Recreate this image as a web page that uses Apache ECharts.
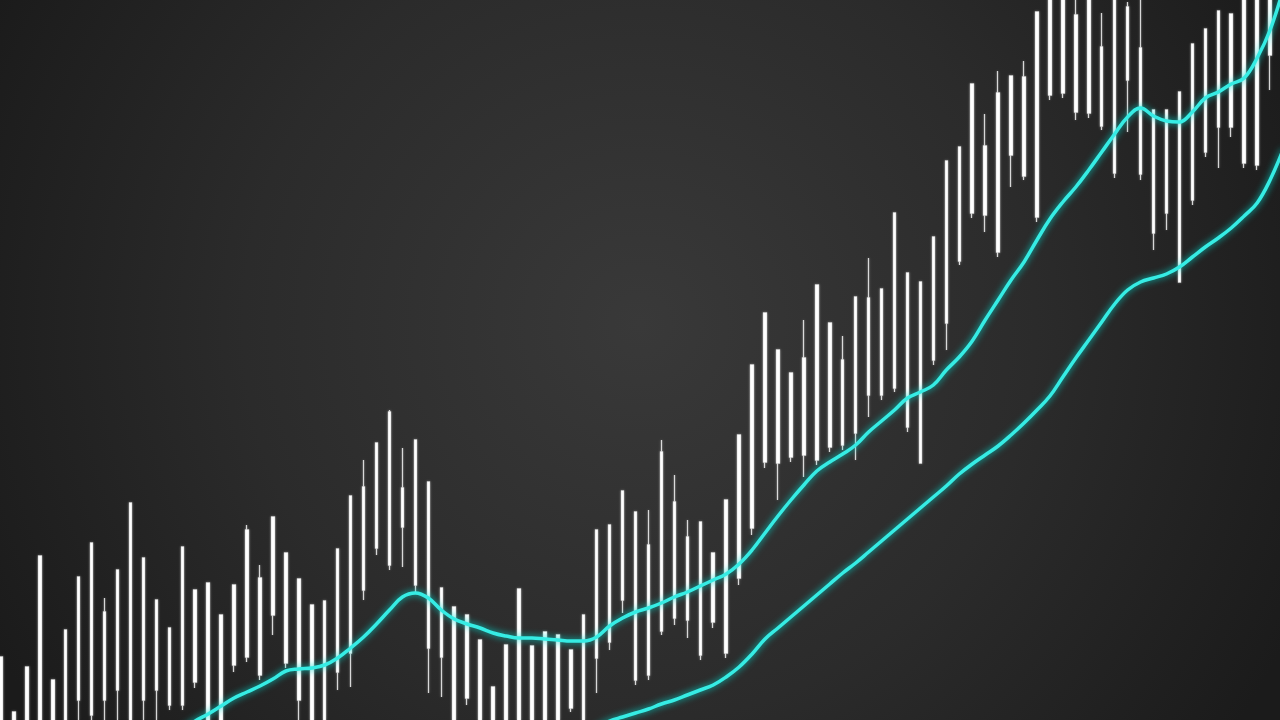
<!DOCTYPE html>
<html>
<head>
<meta charset="utf-8">
<script src="https://cdn.jsdelivr.net/npm/echarts@6/dist/echarts.min.js"></script>
<style>
html,body{margin:0;padding:0;background:#222;}
#chart{width:1280px;height:720px;}
</style>
</head>
<body>
<div id="chart"></div>
<script>
// Session index (category axis)
const sessions = Array.from({length: 100}, (_, i) => 'D' + (i + 1));

// Candle values (price units, 0..720 visible range)
const opens = [-10,-15,-15,-10,-15,-15,20,5,20,30,0,20,30,15,15,38,-5,-5,55,63,
  45,105,57,20,0,0,48,67,130,172,155,193,135,72,63,0,22,0,0,0,
  0,0,0,0,12,0,62,78,120,40,45,89,102,100,65,98,67,142,192,258,
  257,263,265,260,273,275,287,325,325,332,293,257,360,397,459,507,505,468,565,544,
  503,625,627,608,607,594,547,640,546,487,507,438,520,568,593,593,557,555,665,'-'];
const closes = [63,8,53,164,40,90,143,177,108,150,217,162,120,92,173,130,137,105,135,190,
  142,203,167,141,115,119,171,224,233,277,308,232,280,238,132,113,105,80,33,75,
  131,74,88,85,70,105,190,195,229,208,175,268,218,183,198,167,220,285,355,407,
  370,347,362,435,397,360,423,422,431,507,447,438,483,559,573,636,574,627,644,643,
  708,730,730,705,730,673,730,713,672,610,610,628,676,691,709,706,730,730,730,'-'];
const lows = [-20,-20,-20,-20,-20,-20,0,-15,-10,0,-15,0,0,10,10,32,-20,-20,48,58,
  40,85,52,0,-15,-15,30,33,120,165,150,153,128,27,23,-15,15,-15,-15,-15,
  -15,-15,-15,-15,8,-15,27,70,107,35,40,85,95,82,60,92,62,135,185,252,
  220,258,243,255,268,270,260,303,320,328,288,257,355,370,455,502,488,463,533,540,
  498,620,622,600,602,590,542,588,540,470,490,438,515,563,552,583,552,550,630,'-'];
const highs = [63,8,53,164,40,90,143,177,122,150,217,162,120,92,173,130,137,105,135,195,
  155,203,167,141,115,119,171,224,260,277,310,272,280,238,132,113,105,80,33,75,
  131,74,88,85,70,105,190,195,229,208,210,280,245,200,198,167,220,285,355,407,
  370,347,400,435,397,384,423,462,431,507,447,438,483,559,573,636,606,649,644,659,
  708,745,745,730,745,707,745,718,730,610,610,628,676,691,709,706,745,745,745,'-'];

// Moving-average lines
const maFast = ['-','-','-','-','-','-','-','-','-','-','-','-','-','-',-10,-1,6,14,22,28,
  34,41,49,51,52,55,62,72,83,96,110,123,127,122,110,101,96,92,87,84,
  82,82,81,80,79,79,83,94,102,108,112,117,123,128,134,140,146,156,170,187,
  204,220,235,249,258,266,275,288,299,310,322,328,335,350,363,379,400,420,440,458,
  480,501,518,533,550,568,586,603,612,604,599,598,608,622,628,636,642,662,690,730];
const maSlow = ['-','-','-','-','-','-','-','-','-','-','-','-','-','-','-','-','-','-','-','-',
  '-','-','-','-','-','-','-','-','-','-','-','-','-','-','-','-','-','-','-','-',
  '-','-','-','-','-','-',-8,-1,3,7,11,16,20,25,30,35,43,53,66,81,
  92,103,114,125,136,147,157,168,179,190,201,212,223,234,246,256,265,274,285,297,
  310,324,343,362,380,398,416,430,438,442,446,453,463,473,482,492,504,517,540,570];

const chart = echarts.init(document.getElementById('chart'));
const lineStyleBase = {
  width: 3.5,
  color: '#36ece4',
  shadowBlur: 7,
  shadowColor: 'rgba(0,215,205,0.95)'
};
chart.setOption({
  animation: false,
  backgroundColor: {
    type: 'radial', x: 0.5, y: 0.45, r: 1.0,
    colorStops: [
      {offset: 0, color: '#393939'},
      {offset: 0.55, color: '#2b2b2b'},
      {offset: 1, color: '#1b1b1b'}
    ]
  },
  grid: {left: -5.5, top: 0, width: 1295, height: 720, containLabel: false, outerBoundsMode: 'none'},
  xAxis: {
    type: 'category', data: sessions, boundaryGap: true, show: false
  },
  yAxis: {
    type: 'value', min: 0, max: 720, show: false, splitLine: {show: false}
  },
  series: [
    {
      type: 'candlestick',
      barWidth: 3,
      data: sessions.map((_, i) => [opens[i], closes[i], lows[i], highs[i]]),
      itemStyle: {
        color: '#ffffff', color0: '#ffffff',
        borderColor: 'rgba(255,255,255,0.8)', borderColor0: 'rgba(255,255,255,0.8)',
        borderWidth: 1.3,
        shadowBlur: 3, shadowColor: 'rgba(255,255,255,0.35)'
      }
    },
    {
      type: 'line', data: maFast, smooth: 0.4, symbol: 'none',
      lineStyle: lineStyleBase, z: 5
    },
    {
      type: 'line', data: maSlow, smooth: 0.4, symbol: 'none',
      lineStyle: lineStyleBase, z: 5
    }
  ]
});
</script>
</body>
</html>
